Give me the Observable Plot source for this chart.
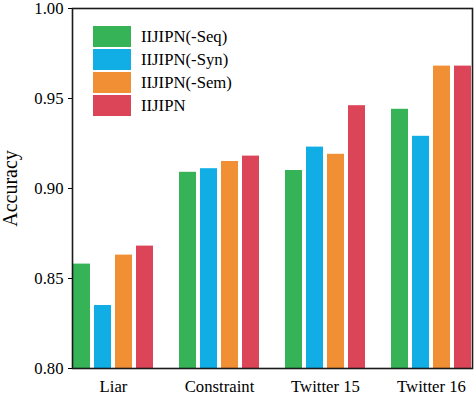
<!DOCTYPE html>
<html><head><meta charset="utf-8">
<script src="https://cdn.jsdelivr.net/npm/d3@7"></script>
<script src="https://cdn.jsdelivr.net/npm/@observablehq/plot@0.6"></script>
<style>
body{margin:0;background:#fff;}
#wrap{position:relative;width:474px;height:395px;}
#legend{position:absolute;left:93px;top:26px;font-family:"Liberation Serif";color:#000;}
.row{display:flex;align-items:center;height:21px;margin-bottom:2px;}
.sw{width:38px;height:21px;margin-right:10px;flex:none;}
.lab{display:inline-block;font-size:20px;line-height:21px;white-space:nowrap;transform:scale(0.835);transform-origin:left center;}
</style></head><body><div id="wrap"><div id="legend"></div></div>
<script>
const datasets = ["Liar", "Constraint", "Twitter 15", "Twitter 16"];
const models = ["IIJIPN(-Seq)", "IIJIPN(-Syn)", "IIJIPN(-Sem)", "IIJIPN"];
const colors = ["#36b257", "#10aee5", "#f18f35", "#dc4558"];
const seqAcc = [0.858, 0.909, 0.910, 0.944];
const synAcc = [0.835, 0.911, 0.923, 0.929];
const semAcc = [0.863, 0.915, 0.919, 0.968];
const fullAcc = [0.868, 0.918, 0.946, 0.968];
const yTicks = [0.80, 0.85, 0.90, 0.95, 1.00];
const yBase = 0.80;

const series = [seqAcc, synAcc, semAcc, fullAcc];
const rows = [];
datasets.forEach((d, i) => models.forEach((m, j) => rows.push({dataset: d, model: m, value: series[j][i]})));

const chart = Plot.plot({
  width: 474, height: 395,
  marginLeft: 71, marginRight: 2, marginTop: 8, marginBottom: 27,
  style: {fontFamily: "Liberation Serif", fontSize: "20px", color: "#000", background: "#fff"},
  fx: {domain: datasets, padding: 0.23, label: null, axis: "bottom", tickSize: 0, tickPadding: 12},
  x: {domain: models, paddingInner: 0.17, paddingOuter: 0, axis: null},
  y: {domain: [yBase, 1.0], ticks: yTicks, tickFormat: ".2f", tickSize: 4, tickPadding: 5,
      label: "Accuracy", labelArrow: "none", labelAnchor: "center", labelOffset: 70},
  color: {domain: models, range: colors},
  marks: [
    Plot.barY(rows, {fx: "dataset", x: "model", y1: yBase, y2: "value", fill: "model"}),
    Plot.frame({facet: "super", stroke: "#1a1a1a", strokeWidth: 1.6})
  ]
});
document.getElementById("wrap").prepend(chart);
// tick labels: set at 20px then scaled to ~16.7px so the serif face is used
chart.querySelectorAll("g[aria-label='y-axis tick label'] text, g[aria-label='fx-axis tick label'] text").forEach(t => {
  const tr = t.getAttribute("transform") || "";
  t.setAttribute("transform", tr + " scale(0.835)");
});

const leg = document.getElementById("legend");
models.forEach((m, j) => {
  const r = document.createElement("div"); r.className = "row";
  const s = document.createElement("div"); s.className = "sw"; s.style.background = colors[j];
  const t = document.createElement("span"); t.className = "lab"; t.textContent = m;
  r.append(s, t); leg.append(r);
});
</script></body></html>
